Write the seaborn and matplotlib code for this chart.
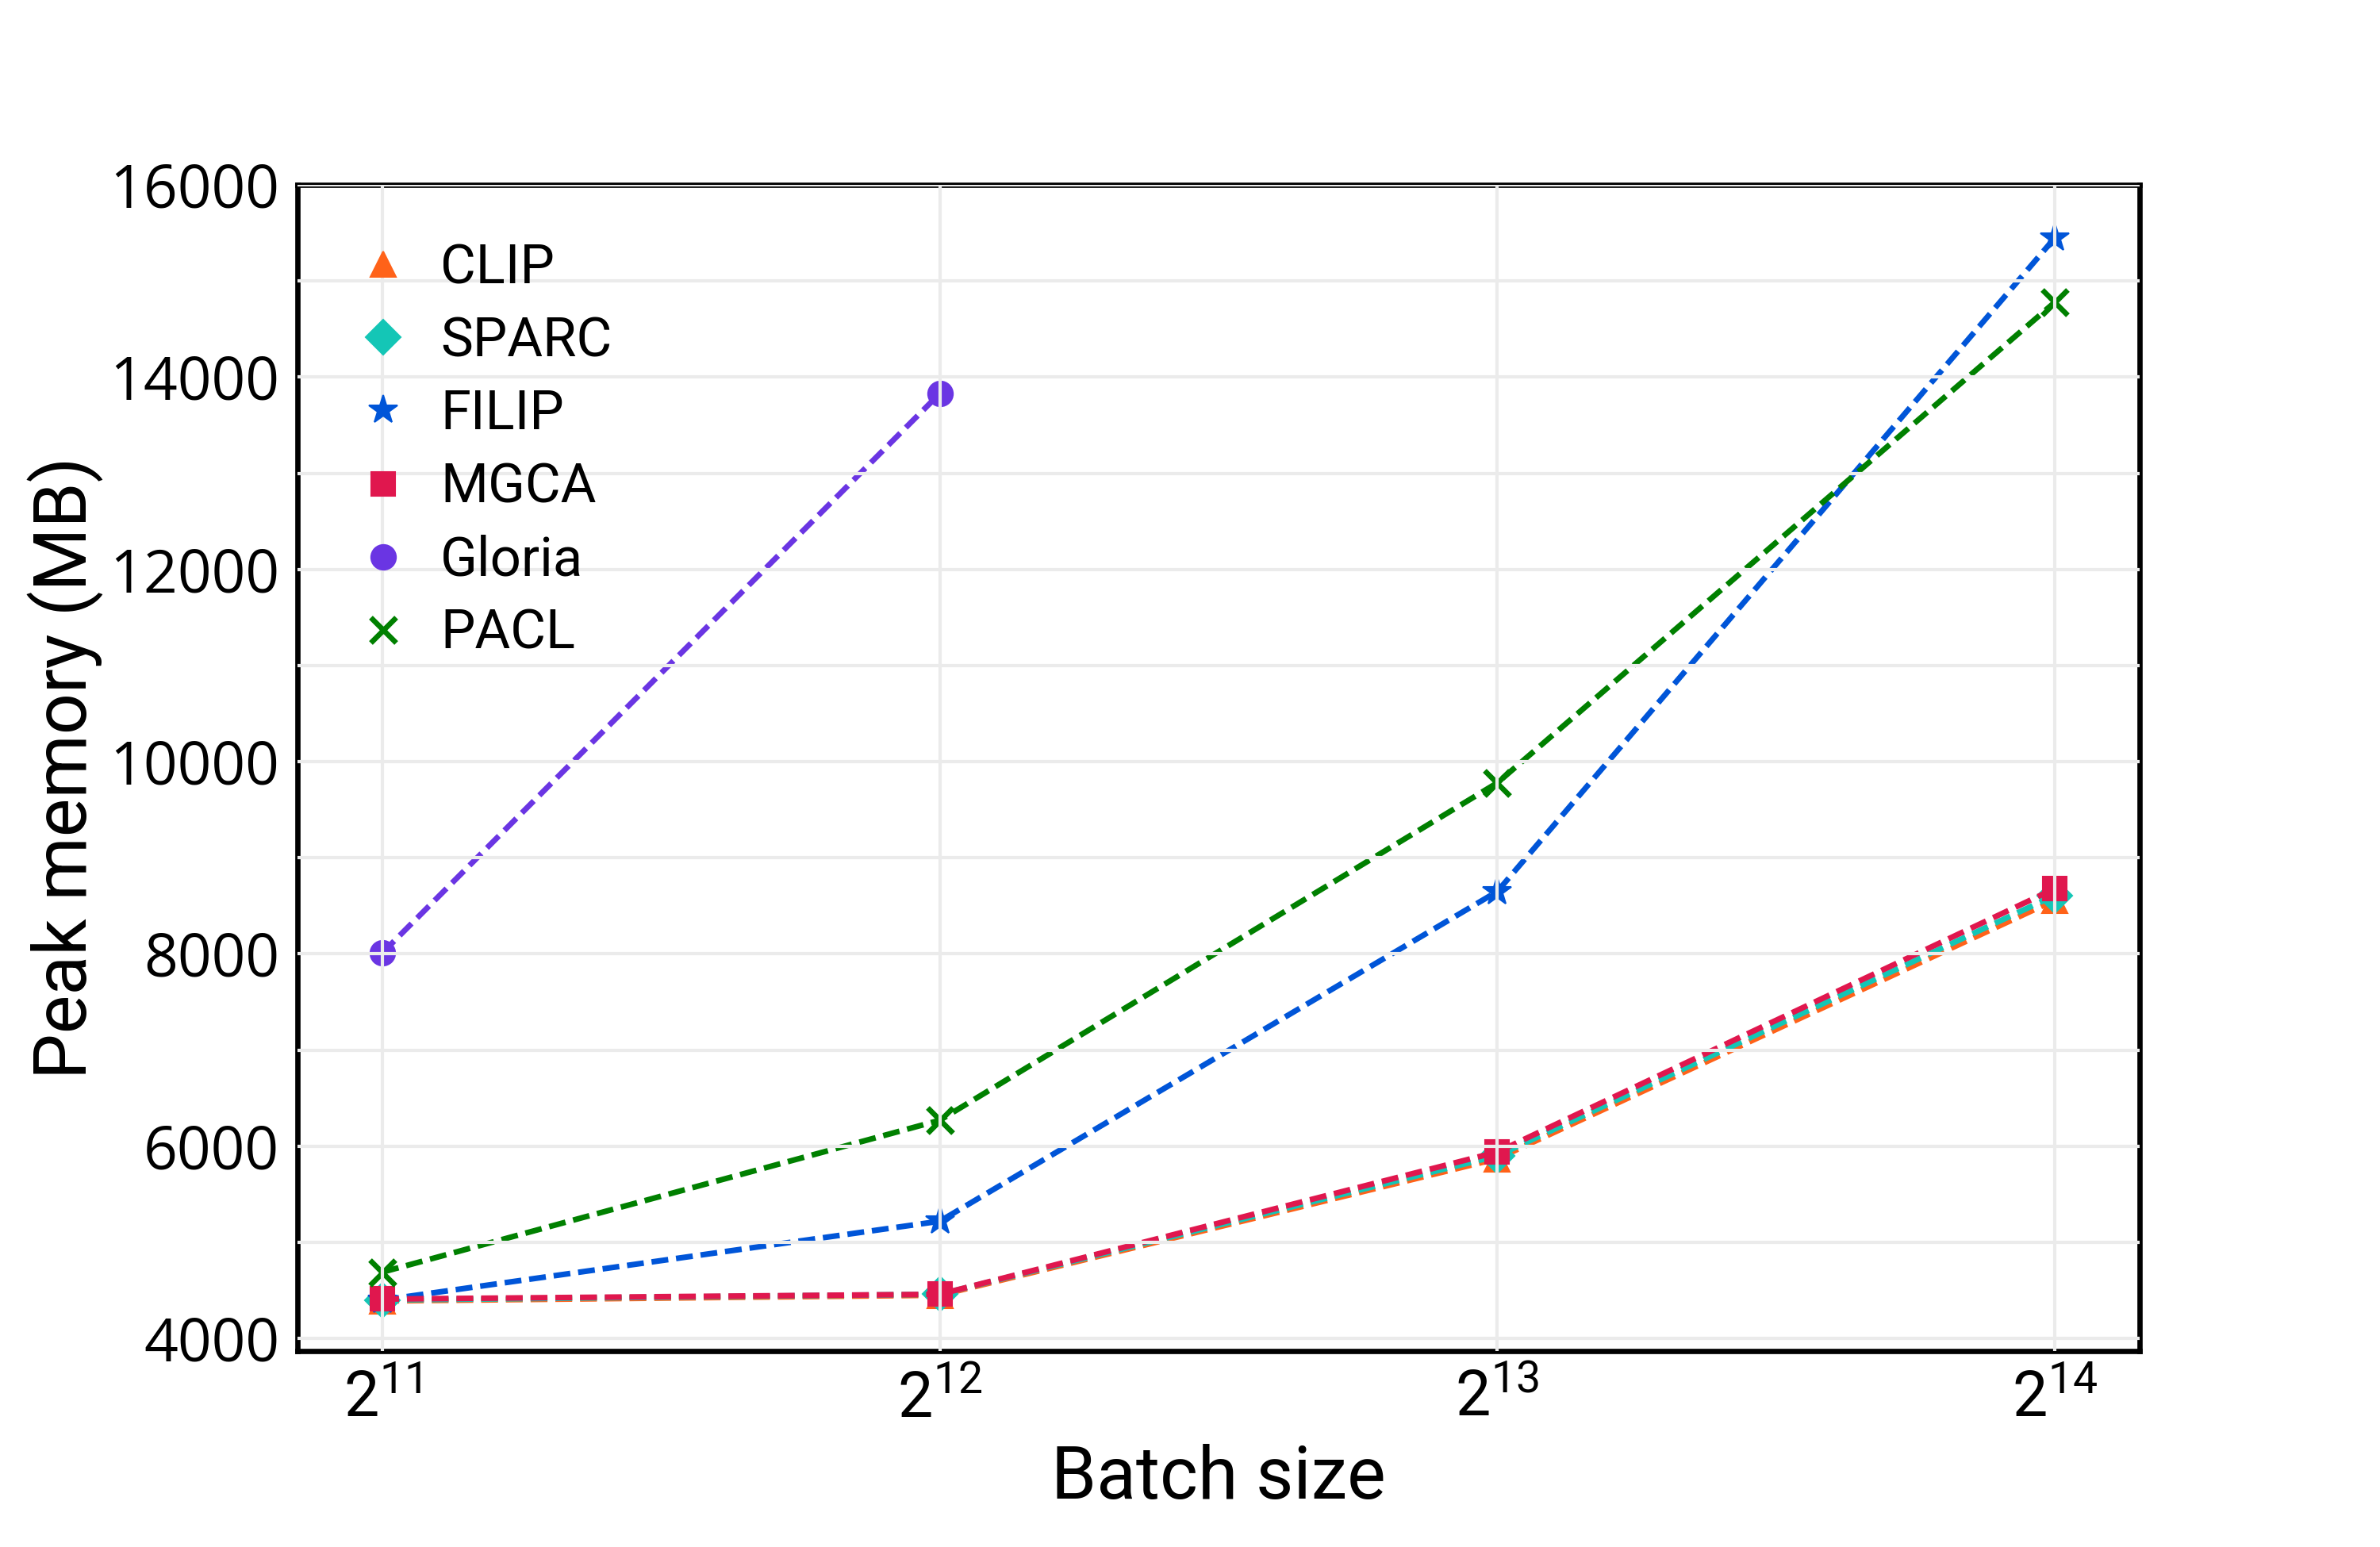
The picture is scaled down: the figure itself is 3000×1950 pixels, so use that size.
import seaborn as sns
import matplotlib.pyplot as plt
import matplotlib.ticker as mticker
import numpy as np

# Datos: memoria pico (MB) por tamaño de batch
batch = [2048, 4096, 8192, 16384]
metodos = ["CLIP", "SPARC", "FILIP", "MGCA", "Gloria", "PACL"]
clip_mem = [4390, 4450, 5870, 8560]
sparc_mem = [4400, 4460, 5900, 8610]
filip_mem = [4400, 5220, 8650, 15450]
mgca_mem = [4410, 4460, 5940, 8680]
gloria_mem = [8010, 13830]
gloria_batch = [2048, 4096]
pacl_mem = [4690, 6270, 9780, 14780]

colores = ["#ff6219", "#14c6b6", "#0055d8", "#e0174e", "#6a35e3", "#008000"]
marcadores = ["^", "D", "*", "s", "o", "x"]
tamanios = [7.5, 7.5, 9, 7, 7.5, 7.5]

series = [
    (batch, clip_mem),
    (batch, sparc_mem),
    (batch, filip_mem),
    (batch, mgca_mem),
    (gloria_batch, gloria_mem),
    (batch, pacl_mem),
]

sns.set_style("white")
plt.rcParams["font.family"] = ["Roboto", "DejaVu Sans"]
plt.rcParams["mathtext.fontset"] = "custom"
plt.rcParams["mathtext.rm"] = "Roboto"
plt.rcParams["mathtext.it"] = "Roboto:italic"
plt.rcParams["text.color"] = "black"
plt.rcParams["axes.labelcolor"] = "black"
plt.rcParams["xtick.color"] = "black"
plt.rcParams["ytick.color"] = "black"

fig, ax = plt.subplots(figsize=(10, 6.5), dpi=300)
fig.subplots_adjust(left=0.125, right=0.899, top=0.8805, bottom=0.1267)

for (xs, ys), nombre, c, m, ms in zip(series, metodos, colores, marcadores, tamanios):
    sns.lineplot(x=xs, y=ys, ax=ax, color=c, marker=m, markersize=ms,
                 linestyle="--", dashes=False, linewidth=1.7, label=nombre,
                 markeredgecolor=c, markerfacecolor=c,
                 markeredgewidth=1.6 if m == "x" else 0.5)
for linea in ax.lines:
    linea.set_dashes((3.0, 1.4))

ax.set_xscale("log", base=2)
ax.set_xlim(2 ** 10.848, 2 ** 14.152)
ax.set_ylim(3870, 16000)
ax.xaxis.set_major_locator(mticker.FixedLocator(batch))
ax.xaxis.set_major_formatter(mticker.LogFormatterMathtext(base=2))
ax.xaxis.set_minor_locator(mticker.NullLocator())
ax.yaxis.set_major_locator(mticker.MultipleLocator(2000))
ax.yaxis.set_minor_locator(mticker.MultipleLocator(1000))

ax.set_axisbelow(False)
ax.grid(True, which="major", axis="x", color="#ebebeb", linewidth=1.0)
ax.grid(True, which="both", axis="y", color="#ebebeb", linewidth=1.0)

for lado in ax.spines.values():
    lado.set_visible(True)
    lado.set_color("black")
    lado.set_linewidth(1.6)

ax.tick_params(axis="both", which="major", direction="inout", length=7,
               width=1.2, color="black", labelcolor="black")
ax.tick_params(axis="x", which="major", labelsize=19, pad=2)
ax.tick_params(axis="y", which="major", labelsize=18, pad=2)
ax.tick_params(axis="y", which="minor", direction="inout", length=4,
               width=1.0, color="black")
for t in ax.get_yticklabels():
    t.set_family(["Open Sans", "DejaVu Sans"])

ax.set_xlabel("Batch size", fontsize=22, labelpad=4)
ax.set_ylabel("Peak memory (MB)", fontsize=22, labelpad=2)

leg = ax.legend(loc="upper left", frameon=False, fontsize=16.5,
                handlelength=1.0, handletextpad=0.55, labelspacing=0.38,
                bbox_to_anchor=(0.005, 0.993))
for h in leg.legend_handles:
    h.set_linestyle("None")
for t in leg.get_texts():
    t.set_color("black")

plt.savefig("out.png", dpi=300)
